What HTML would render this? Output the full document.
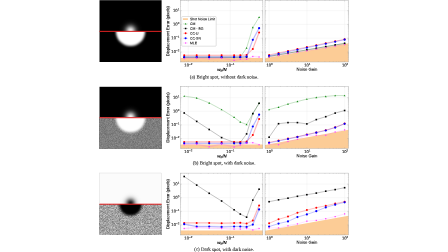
<!DOCTYPE html><html><head><meta charset="utf-8"><title>Figure</title>
<style>html,body{margin:0;padding:0;background:#fff}svg{display:block}text{text-rendering:geometricPrecision}.s{font-family:"Liberation Sans",sans-serif;stroke:#111;stroke-width:0.09px}.t{font-family:"Liberation Serif",serif;stroke:#111;stroke-width:0.07px}</style></head><body>
<svg width="448" height="252" viewBox="0 0 448 252">
<defs>
<filter id="b1" x="-50%" y="-50%" width="200%" height="200%"><feGaussianBlur stdDeviation="1.0"/></filter>
<filter id="b3" x="-50%" y="-50%" width="200%" height="200%"><feGaussianBlur stdDeviation="1.3"/></filter>
<filter id="b2" x="-50%" y="-50%" width="200%" height="200%"><feGaussianBlur stdDeviation="2.6"/></filter>
<filter id="n2" x="0" y="0" width="100%" height="100%" color-interpolation-filters="sRGB"><feTurbulence type="fractalNoise" baseFrequency="1.73" numOctaves="1" seed="3"/><feColorMatrix type="matrix" values="0.26 0 0 0 0.365  0.26 0 0 0 0.365  0.26 0 0 0 0.365  0 0 0 0 1"/></filter>
<filter id="n3" x="0" y="0" width="100%" height="100%" color-interpolation-filters="sRGB"><feTurbulence type="fractalNoise" baseFrequency="1.73" numOctaves="1" seed="7"/><feColorMatrix type="matrix" values="0.6 0 0 0 0.335  0.6 0 0 0 0.335  0.6 0 0 0 0.335  0 0 0 0 1"/></filter>
<radialGradient id="gw" gradientUnits="objectBoundingBox" cx="0.5" cy="0.5" r="0.5"><stop offset="0.000" stop-color="#fff" stop-opacity="0.950"/><stop offset="0.038" stop-color="#fff" stop-opacity="0.942"/><stop offset="0.077" stop-color="#fff" stop-opacity="0.919"/><stop offset="0.115" stop-color="#fff" stop-opacity="0.882"/><stop offset="0.154" stop-color="#fff" stop-opacity="0.833"/><stop offset="0.192" stop-color="#fff" stop-opacity="0.774"/><stop offset="0.231" stop-color="#fff" stop-opacity="0.707"/><stop offset="0.269" stop-color="#fff" stop-opacity="0.635"/><stop offset="0.308" stop-color="#fff" stop-opacity="0.561"/><stop offset="0.346" stop-color="#fff" stop-opacity="0.488"/><stop offset="0.385" stop-color="#fff" stop-opacity="0.418"/><stop offset="0.423" stop-color="#fff" stop-opacity="0.351"/><stop offset="0.462" stop-color="#fff" stop-opacity="0.291"/><stop offset="0.500" stop-color="#fff" stop-opacity="0.237"/><stop offset="0.538" stop-color="#fff" stop-opacity="0.190"/><stop offset="0.577" stop-color="#fff" stop-opacity="0.150"/><stop offset="0.615" stop-color="#fff" stop-opacity="0.116"/><stop offset="0.654" stop-color="#fff" stop-opacity="0.088"/><stop offset="0.692" stop-color="#fff" stop-opacity="0.066"/><stop offset="0.731" stop-color="#fff" stop-opacity="0.049"/><stop offset="0.769" stop-color="#fff" stop-opacity="0.035"/><stop offset="0.808" stop-color="#fff" stop-opacity="0.025"/><stop offset="0.846" stop-color="#fff" stop-opacity="0.018"/><stop offset="0.885" stop-color="#fff" stop-opacity="0.012"/><stop offset="0.923" stop-color="#fff" stop-opacity="0.008"/><stop offset="0.962" stop-color="#fff" stop-opacity="0.006"/><stop offset="1.000" stop-color="#fff" stop-opacity="0.004"/></radialGradient><radialGradient id="gk" gradientUnits="objectBoundingBox" cx="0.5" cy="0.5" r="0.5"><stop offset="0.000" stop-color="#000" stop-opacity="0.920"/><stop offset="0.038" stop-color="#000" stop-opacity="0.911"/><stop offset="0.077" stop-color="#000" stop-opacity="0.885"/><stop offset="0.115" stop-color="#000" stop-opacity="0.842"/><stop offset="0.154" stop-color="#000" stop-opacity="0.787"/><stop offset="0.192" stop-color="#000" stop-opacity="0.720"/><stop offset="0.231" stop-color="#000" stop-opacity="0.647"/><stop offset="0.269" stop-color="#000" stop-opacity="0.570"/><stop offset="0.308" stop-color="#000" stop-opacity="0.492"/><stop offset="0.346" stop-color="#000" stop-opacity="0.417"/><stop offset="0.385" stop-color="#000" stop-opacity="0.346"/><stop offset="0.423" stop-color="#000" stop-opacity="0.282"/><stop offset="0.462" stop-color="#000" stop-opacity="0.225"/><stop offset="0.500" stop-color="#000" stop-opacity="0.176"/><stop offset="0.538" stop-color="#000" stop-opacity="0.135"/><stop offset="0.577" stop-color="#000" stop-opacity="0.102"/><stop offset="0.615" stop-color="#000" stop-opacity="0.075"/><stop offset="0.654" stop-color="#000" stop-opacity="0.054"/><stop offset="0.692" stop-color="#000" stop-opacity="0.039"/><stop offset="0.731" stop-color="#000" stop-opacity="0.027"/><stop offset="0.769" stop-color="#000" stop-opacity="0.018"/><stop offset="0.808" stop-color="#000" stop-opacity="0.012"/><stop offset="0.846" stop-color="#000" stop-opacity="0.008"/><stop offset="0.885" stop-color="#000" stop-opacity="0.005"/><stop offset="0.923" stop-color="#000" stop-opacity="0.003"/><stop offset="0.962" stop-color="#000" stop-opacity="0.002"/><stop offset="1.000" stop-color="#000" stop-opacity="0.001"/></radialGradient>
<clipPath id="c1"><rect x="99.5" y="31.4" width="62.1" height="30.6"/></clipPath>
<clipPath id="c1t"><rect x="99.5" y="0.2" width="62.1" height="31.2"/></clipPath>
<clipPath id="c2"><rect x="99.5" y="117.7" width="62.1" height="30.9"/></clipPath>
<clipPath id="c2t"><rect x="99.5" y="86.8" width="62.1" height="30.9"/></clipPath>
<clipPath id="c3"><rect x="99.5" y="204.1" width="62.1" height="30.9"/></clipPath>
<clipPath id="c3t"><rect x="99.5" y="173" width="62.1" height="31.1"/></clipPath>
</defs>
<rect x="99.5" y="0.2" width="62.1" height="61.8" fill="#000"/>
<g clip-path="url(#c1t)"><circle cx="130.55" cy="30.6" r="12" fill="url(#gw)"/></g>
<g clip-path="url(#c1)"><circle cx="130.55" cy="31.4" r="14.6" fill="#fff" filter="url(#b1)"/></g>
<rect x="99.5" y="30.85" width="62.1" height="1.0" fill="#e32222"/>
<rect x="99.5" y="86.8" width="62.1" height="30.9" fill="#000"/>
<rect x="99.5" y="117.7" width="62.1" height="30.9" fill="#777" filter="url(#n2)"/>
<g clip-path="url(#c2t)"><circle cx="130.55" cy="116.9" r="12" fill="url(#gw)"/></g>
<g clip-path="url(#c2)"><circle cx="130.55" cy="117.7" r="14.8" fill="#fff" filter="url(#b1)"/></g>
<rect x="99.5" y="117.2" width="62.1" height="1.0" fill="#e32222"/>
<rect x="99.5" y="173" width="62.1" height="31.1" fill="#fbfbfb" stroke="#c8c8c8" stroke-width="0.3"/>
<rect x="99.5" y="204.1" width="62.1" height="30.9" fill="#b0b0b0" filter="url(#n3)"/>
<g clip-path="url(#c3t)"><circle cx="130.55" cy="203.3" r="12" fill="url(#gk)"/></g>
<g clip-path="url(#c3)"><circle cx="130.55" cy="204.1" r="11.4" fill="#000" filter="url(#b3)"/></g>
<rect x="99.5" y="203.7" width="62.1" height="1.0" fill="#e32222"/>
<rect x="180.5" y="0.3" width="82.39999999999998" height="61.7" fill="#fff"/><line x1="180.5" x2="262.9" y1="10.6" y2="10.6" stroke="#e6e6e6" stroke-width="0.3"/><line x1="180.5" x2="262.9" y1="24.4" y2="24.4" stroke="#e6e6e6" stroke-width="0.3"/><line x1="180.5" x2="262.9" y1="38.2" y2="38.2" stroke="#e6e6e6" stroke-width="0.3"/><line x1="180.5" x2="262.9" y1="52.0" y2="52.0" stroke="#e6e6e6" stroke-width="0.3"/><line x1="188.3" x2="188.3" y1="0.3" y2="62.0" stroke="#e6e6e6" stroke-width="0.3"/><line x1="230.3" x2="230.3" y1="0.3" y2="62.0" stroke="#e6e6e6" stroke-width="0.3"/>
<path d="M180.5 57.9L262.9 57.9L262.9 62.0L180.5 62.0Z" fill="#fccc96"/>
<polyline points="184.20,57.20 196.70,57.20 209.20,57.20 221.60,57.20 234.10,57.20 240.30,57.00 246.60,47.90 252.80,27.50 259.10,17.30" fill="none" stroke="#0f8a0f" stroke-width="0.3" stroke-opacity="0.8"/><path d="M183.25 57.96L185.15 57.96L184.20 56.25Z" fill="#0f8a0f"/><path d="M195.75 57.96L197.65 57.96L196.70 56.25Z" fill="#0f8a0f"/><path d="M208.25 57.96L210.15 57.96L209.20 56.25Z" fill="#0f8a0f"/><path d="M220.65 57.96L222.55 57.96L221.60 56.25Z" fill="#0f8a0f"/><path d="M233.15 57.96L235.05 57.96L234.10 56.25Z" fill="#0f8a0f"/><path d="M239.35 57.76L241.25 57.76L240.30 56.05Z" fill="#0f8a0f"/><path d="M245.65 48.66L247.55 48.66L246.60 46.95Z" fill="#0f8a0f"/><path d="M251.85 28.26L253.75 28.26L252.80 26.55Z" fill="#0f8a0f"/><path d="M258.15 18.06L260.05 18.06L259.10 16.35Z" fill="#0f8a0f"/>
<polyline points="184.20,57.30 196.70,57.30 209.20,57.30 221.60,57.30 234.10,57.30 240.30,57.30 246.60,57.20" fill="none" stroke="#000" stroke-width="0.3" stroke-opacity="0.8"/><rect x="183.40" y="56.50" width="1.6" height="1.6" fill="#000"/><rect x="195.90" y="56.50" width="1.6" height="1.6" fill="#000"/><rect x="208.40" y="56.50" width="1.6" height="1.6" fill="#000"/><rect x="220.80" y="56.50" width="1.6" height="1.6" fill="#000"/><rect x="233.30" y="56.50" width="1.6" height="1.6" fill="#000"/><rect x="239.50" y="56.50" width="1.6" height="1.6" fill="#000"/><rect x="245.80" y="56.40" width="1.6" height="1.6" fill="#000"/>
<polyline points="184.20,55.30 196.70,55.30 209.20,55.30 221.60,55.30 234.10,55.30 240.30,55.30 246.60,55.00 252.80,48.90 259.10,32.40" fill="none" stroke="#ff0000" stroke-width="1.8" stroke-opacity="0.07" stroke-linejoin="round"/><polyline points="184.20,55.30 196.70,55.30 209.20,55.30 221.60,55.30 234.10,55.30 240.30,55.30 246.60,55.00 252.80,48.90 259.10,32.40" fill="none" stroke="#ff0000" stroke-width="0.3" stroke-opacity="0.8"/><circle cx="184.20" cy="55.30" r="1.00" fill="#ff0000"/><circle cx="196.70" cy="55.30" r="1.00" fill="#ff0000"/><circle cx="209.20" cy="55.30" r="1.00" fill="#ff0000"/><circle cx="221.60" cy="55.30" r="1.00" fill="#ff0000"/><circle cx="234.10" cy="55.30" r="1.00" fill="#ff0000"/><circle cx="240.30" cy="55.30" r="1.00" fill="#ff0000"/><circle cx="246.60" cy="55.00" r="1.00" fill="#ff0000"/><circle cx="252.80" cy="48.90" r="1.00" fill="#ff0000"/><circle cx="259.10" cy="32.40" r="1.00" fill="#ff0000"/>
<polyline points="184.20,57.00 196.70,57.00 209.20,57.00 221.60,57.00 234.10,57.00 240.30,57.00 246.60,56.60 252.80,39.80 259.10,28.20" fill="none" stroke="#0000ff" stroke-width="1.8" stroke-opacity="0.07" stroke-linejoin="round"/><polyline points="184.20,57.00 196.70,57.00 209.20,57.00 221.60,57.00 234.10,57.00 240.30,57.00 246.60,56.60 252.80,39.80 259.10,28.20" fill="none" stroke="#0000ff" stroke-width="0.3" stroke-opacity="0.8"/><circle cx="184.20" cy="57.00" r="1.08" fill="#0000ff"/><circle cx="196.70" cy="57.00" r="1.08" fill="#0000ff"/><circle cx="209.20" cy="57.00" r="1.08" fill="#0000ff"/><circle cx="221.60" cy="57.00" r="1.08" fill="#0000ff"/><circle cx="234.10" cy="57.00" r="1.08" fill="#0000ff"/><circle cx="240.30" cy="57.00" r="1.08" fill="#0000ff"/><circle cx="246.60" cy="56.60" r="1.08" fill="#0000ff"/><circle cx="252.80" cy="39.80" r="1.08" fill="#0000ff"/><circle cx="259.10" cy="28.20" r="1.08" fill="#0000ff"/>
<polyline points="184.20,58.60 196.70,58.20 209.20,58.80 221.60,58.20 234.10,60.30 240.30,59.20 246.60,59.20 252.80,56.50 259.10,57.00" fill="none" stroke="#ff40ff" stroke-width="1.8" stroke-opacity="0.07" stroke-linejoin="round"/><polyline points="184.20,58.60 196.70,58.20 209.20,58.80 221.60,58.20 234.10,60.30 240.30,59.20 246.60,59.20 252.80,56.50 259.10,57.00" fill="none" stroke="#ff40ff" stroke-width="0.3" stroke-opacity="0.5"/><rect x="183.58" y="57.98" width="1.24" height="1.24" fill="#ff40ff"/><rect x="196.08" y="57.58" width="1.24" height="1.24" fill="#ff40ff"/><rect x="208.58" y="58.18" width="1.24" height="1.24" fill="#ff40ff"/><rect x="220.98" y="57.58" width="1.24" height="1.24" fill="#ff40ff"/><rect x="233.48" y="59.68" width="1.24" height="1.24" fill="#ff40ff"/><rect x="239.68" y="58.58" width="1.24" height="1.24" fill="#ff40ff"/><rect x="245.98" y="58.58" width="1.24" height="1.24" fill="#ff40ff"/><rect x="252.18" y="55.88" width="1.24" height="1.24" fill="#ff40ff"/><rect x="258.48" y="56.38" width="1.24" height="1.24" fill="#ff40ff"/>
<rect x="180.5" y="0.3" width="82.39999999999998" height="61.7" fill="none" stroke="#a8a8a8" stroke-width="0.4"/><path d="M180.5 10.6h1.2M262.9 10.6h-1.2M180.5 6.45h0.6M262.9 6.45h-0.6M180.5 4.02h0.6M262.9 4.02h-0.6M180.5 2.29h0.6M262.9 2.29h-0.6M180.5 0.95h0.6M262.9 0.95h-0.6M180.5 24.4h1.2M262.9 24.4h-1.2M180.5 20.25h0.6M262.9 20.25h-0.6M180.5 17.82h0.6M262.9 17.82h-0.6M180.5 16.09h0.6M262.9 16.09h-0.6M180.5 14.75h0.6M262.9 14.75h-0.6M180.5 13.66h0.6M262.9 13.66h-0.6M180.5 12.74h0.6M262.9 12.74h-0.6M180.5 11.94h0.6M262.9 11.94h-0.6M180.5 11.23h0.6M262.9 11.23h-0.6M180.5 38.2h1.2M262.9 38.2h-1.2M180.5 34.05h0.6M262.9 34.05h-0.6M180.5 31.62h0.6M262.9 31.62h-0.6M180.5 29.89h0.6M262.9 29.89h-0.6M180.5 28.55h0.6M262.9 28.55h-0.6M180.5 27.46h0.6M262.9 27.46h-0.6M180.5 26.54h0.6M262.9 26.54h-0.6M180.5 25.74h0.6M262.9 25.74h-0.6M180.5 25.03h0.6M262.9 25.03h-0.6M180.5 52.0h1.2M262.9 52.0h-1.2M180.5 47.85h0.6M262.9 47.85h-0.6M180.5 45.42h0.6M262.9 45.42h-0.6M180.5 43.69h0.6M262.9 43.69h-0.6M180.5 42.35h0.6M262.9 42.35h-0.6M180.5 41.26h0.6M262.9 41.26h-0.6M180.5 40.34h0.6M262.9 40.34h-0.6M180.5 39.54h0.6M262.9 39.54h-0.6M180.5 38.83h0.6M262.9 38.83h-0.6M180.5 61.65h0.6M262.9 61.65h-0.6M180.5 59.22h0.6M262.9 59.22h-0.6M180.5 57.49h0.6M262.9 57.49h-0.6M180.5 56.15h0.6M262.9 56.15h-0.6M180.5 55.06h0.6M262.9 55.06h-0.6M180.5 54.14h0.6M262.9 54.14h-0.6M180.5 53.34h0.6M262.9 53.34h-0.6M180.5 52.63h0.6M262.9 52.63h-0.6M188.3 62.0v-1.2M188.3 0.3v1.2M200.94 62.0v-0.6M200.94 0.3v0.6M208.34 62.0v-0.6M208.34 0.3v0.6M213.59 62.0v-0.6M213.59 0.3v0.6M217.66 62.0v-0.6M217.66 0.3v0.6M220.98 62.0v-0.6M220.98 0.3v0.6M223.79 62.0v-0.6M223.79 0.3v0.6M181.79 62.0v-0.6M181.79 0.3v0.6M226.23 62.0v-0.6M226.23 0.3v0.6M184.23 62.0v-0.6M184.23 0.3v0.6M228.38 62.0v-0.6M228.38 0.3v0.6M186.38 62.0v-0.6M186.38 0.3v0.6M230.3 62.0v-1.2M230.3 0.3v1.2M242.94 62.0v-0.6M242.94 0.3v0.6M250.34 62.0v-0.6M250.34 0.3v0.6M255.59 62.0v-0.6M255.59 0.3v0.6M259.66 62.0v-0.6M259.66 0.3v0.6" stroke="#9a9a9a" stroke-width="0.3" fill="none"/>
<rect x="265.0" y="0.3" width="83.5" height="61.7" fill="#fff"/><line x1="265.0" x2="348.5" y1="10.6" y2="10.6" stroke="#e6e6e6" stroke-width="0.3"/><line x1="265.0" x2="348.5" y1="24.4" y2="24.4" stroke="#e6e6e6" stroke-width="0.3"/><line x1="265.0" x2="348.5" y1="38.2" y2="38.2" stroke="#e6e6e6" stroke-width="0.3"/><line x1="265.0" x2="348.5" y1="52.0" y2="52.0" stroke="#e6e6e6" stroke-width="0.3"/><line x1="269.1" x2="269.1" y1="0.3" y2="62.0" stroke="#e6e6e6" stroke-width="0.3"/><line x1="306.9" x2="306.9" y1="0.3" y2="62.0" stroke="#e6e6e6" stroke-width="0.3"/><line x1="344.6" x2="344.6" y1="0.3" y2="62.0" stroke="#e6e6e6" stroke-width="0.3"/>
<path d="M265.0 58.2L348.5 43.2L348.5 62.0L265.0 62.0Z" fill="#fccc96"/>
<polyline points="269.10,56.50 278.54,54.88 287.98,53.25 297.42,51.62 306.86,50.00 316.30,48.38 325.74,46.75 335.18,45.12 344.62,43.50" fill="none" stroke="#0f8a0f" stroke-width="0.3" stroke-opacity="0.8"/><path d="M268.15 57.26L270.05 57.26L269.10 55.55Z" fill="#0f8a0f"/><path d="M277.59 55.63L279.49 55.63L278.54 53.92Z" fill="#0f8a0f"/><path d="M287.03 54.01L288.93 54.01L287.98 52.30Z" fill="#0f8a0f"/><path d="M296.47 52.38L298.37 52.38L297.42 50.67Z" fill="#0f8a0f"/><path d="M305.91 50.76L307.81 50.76L306.86 49.05Z" fill="#0f8a0f"/><path d="M315.35 49.13L317.25 49.13L316.30 47.42Z" fill="#0f8a0f"/><path d="M324.79 47.51L326.69 47.51L325.74 45.80Z" fill="#0f8a0f"/><path d="M334.23 45.88L336.13 45.88L335.18 44.17Z" fill="#0f8a0f"/><path d="M343.67 44.26L345.57 44.26L344.62 42.55Z" fill="#0f8a0f"/>
<polyline points="269.10,56.40 278.54,54.76 287.98,53.12 297.42,51.49 306.86,49.85 316.30,48.21 325.74,46.57 335.18,44.94 344.62,43.30" fill="none" stroke="#000" stroke-width="0.3" stroke-opacity="0.8"/><rect x="268.30" y="55.60" width="1.6" height="1.6" fill="#000"/><rect x="277.74" y="53.96" width="1.6" height="1.6" fill="#000"/><rect x="287.18" y="52.33" width="1.6" height="1.6" fill="#000"/><rect x="296.62" y="50.69" width="1.6" height="1.6" fill="#000"/><rect x="306.06" y="49.05" width="1.6" height="1.6" fill="#000"/><rect x="315.50" y="47.41" width="1.6" height="1.6" fill="#000"/><rect x="324.94" y="45.77" width="1.6" height="1.6" fill="#000"/><rect x="334.38" y="44.14" width="1.6" height="1.6" fill="#000"/><rect x="343.82" y="42.50" width="1.6" height="1.6" fill="#000"/>
<polyline points="269.10,54.90 278.54,52.95 287.98,51.00 297.42,49.05 306.86,47.10 316.30,45.15 325.74,43.20 335.18,41.25 344.62,39.30" fill="none" stroke="#ff0000" stroke-width="0.3" stroke-opacity="0.8"/><circle cx="269.10" cy="54.90" r="1.00" fill="#ff0000"/><circle cx="278.54" cy="52.95" r="1.00" fill="#ff0000"/><circle cx="287.98" cy="51.00" r="1.00" fill="#ff0000"/><circle cx="297.42" cy="49.05" r="1.00" fill="#ff0000"/><circle cx="306.86" cy="47.10" r="1.00" fill="#ff0000"/><circle cx="316.30" cy="45.15" r="1.00" fill="#ff0000"/><circle cx="325.74" cy="43.20" r="1.00" fill="#ff0000"/><circle cx="335.18" cy="41.25" r="1.00" fill="#ff0000"/><circle cx="344.62" cy="39.30" r="1.00" fill="#ff0000"/>
<polyline points="269.10,55.80 278.54,53.79 287.98,51.77 297.42,49.76 306.86,47.75 316.30,45.74 325.74,43.73 335.18,41.71 344.62,39.70" fill="none" stroke="#0000ff" stroke-width="0.3" stroke-opacity="0.8"/><circle cx="269.10" cy="55.80" r="1.08" fill="#0000ff"/><circle cx="278.54" cy="53.79" r="1.08" fill="#0000ff"/><circle cx="287.98" cy="51.77" r="1.08" fill="#0000ff"/><circle cx="297.42" cy="49.76" r="1.08" fill="#0000ff"/><circle cx="306.86" cy="47.75" r="1.08" fill="#0000ff"/><circle cx="316.30" cy="45.74" r="1.08" fill="#0000ff"/><circle cx="325.74" cy="43.73" r="1.08" fill="#0000ff"/><circle cx="335.18" cy="41.71" r="1.08" fill="#0000ff"/><circle cx="344.62" cy="39.70" r="1.08" fill="#0000ff"/>
<polyline points="269.10,57.00 278.54,55.45 287.98,53.90 297.42,52.35 306.86,50.80 316.30,49.25 325.74,47.70 335.18,46.15 344.62,44.60" fill="none" stroke="#ff40ff" stroke-width="0.3" stroke-opacity="0.5"/><rect x="268.48" y="56.38" width="1.24" height="1.24" fill="#ff40ff"/><rect x="277.92" y="54.83" width="1.24" height="1.24" fill="#ff40ff"/><rect x="287.36" y="53.28" width="1.24" height="1.24" fill="#ff40ff"/><rect x="296.80" y="51.73" width="1.24" height="1.24" fill="#ff40ff"/><rect x="306.24" y="50.18" width="1.24" height="1.24" fill="#ff40ff"/><rect x="315.68" y="48.63" width="1.24" height="1.24" fill="#ff40ff"/><rect x="325.12" y="47.08" width="1.24" height="1.24" fill="#ff40ff"/><rect x="334.56" y="45.53" width="1.24" height="1.24" fill="#ff40ff"/><rect x="344.00" y="43.98" width="1.24" height="1.24" fill="#ff40ff"/>
<rect x="265.0" y="0.3" width="83.5" height="61.7" fill="none" stroke="#a8a8a8" stroke-width="0.4"/><path d="M265.0 10.6h1.2M348.5 10.6h-1.2M265.0 6.45h0.6M348.5 6.45h-0.6M265.0 4.02h0.6M348.5 4.02h-0.6M265.0 2.29h0.6M348.5 2.29h-0.6M265.0 0.95h0.6M348.5 0.95h-0.6M265.0 24.4h1.2M348.5 24.4h-1.2M265.0 20.25h0.6M348.5 20.25h-0.6M265.0 17.82h0.6M348.5 17.82h-0.6M265.0 16.09h0.6M348.5 16.09h-0.6M265.0 14.75h0.6M348.5 14.75h-0.6M265.0 13.66h0.6M348.5 13.66h-0.6M265.0 12.74h0.6M348.5 12.74h-0.6M265.0 11.94h0.6M348.5 11.94h-0.6M265.0 11.23h0.6M348.5 11.23h-0.6M265.0 38.2h1.2M348.5 38.2h-1.2M265.0 34.05h0.6M348.5 34.05h-0.6M265.0 31.62h0.6M348.5 31.62h-0.6M265.0 29.89h0.6M348.5 29.89h-0.6M265.0 28.55h0.6M348.5 28.55h-0.6M265.0 27.46h0.6M348.5 27.46h-0.6M265.0 26.54h0.6M348.5 26.54h-0.6M265.0 25.74h0.6M348.5 25.74h-0.6M265.0 25.03h0.6M348.5 25.03h-0.6M265.0 52.0h1.2M348.5 52.0h-1.2M265.0 47.85h0.6M348.5 47.85h-0.6M265.0 45.42h0.6M348.5 45.42h-0.6M265.0 43.69h0.6M348.5 43.69h-0.6M265.0 42.35h0.6M348.5 42.35h-0.6M265.0 41.26h0.6M348.5 41.26h-0.6M265.0 40.34h0.6M348.5 40.34h-0.6M265.0 39.54h0.6M348.5 39.54h-0.6M265.0 38.83h0.6M348.5 38.83h-0.6M265.0 61.65h0.6M348.5 61.65h-0.6M265.0 59.22h0.6M348.5 59.22h-0.6M265.0 57.49h0.6M348.5 57.49h-0.6M265.0 56.15h0.6M348.5 56.15h-0.6M265.0 55.06h0.6M348.5 55.06h-0.6M265.0 54.14h0.6M348.5 54.14h-0.6M265.0 53.34h0.6M348.5 53.34h-0.6M265.0 52.63h0.6M348.5 52.63h-0.6M269.1 62.0v-1.2M269.1 0.3v1.2M280.47 62.0v-0.6M280.47 0.3v0.6M287.12 62.0v-0.6M287.12 0.3v0.6M291.83 62.0v-0.6M291.83 0.3v0.6M295.49 62.0v-0.6M295.49 0.3v0.6M298.48 62.0v-0.6M298.48 0.3v0.6M301.01 62.0v-0.6M301.01 0.3v0.6M303.20 62.0v-0.6M303.20 0.3v0.6M265.44 62.0v-0.6M265.44 0.3v0.6M305.13 62.0v-0.6M305.13 0.3v0.6M267.37 62.0v-0.6M267.37 0.3v0.6M306.9 62.0v-1.2M306.9 0.3v1.2M318.27 62.0v-0.6M318.27 0.3v0.6M324.92 62.0v-0.6M324.92 0.3v0.6M329.63 62.0v-0.6M329.63 0.3v0.6M333.29 62.0v-0.6M333.29 0.3v0.6M336.28 62.0v-0.6M336.28 0.3v0.6M338.81 62.0v-0.6M338.81 0.3v0.6M341.00 62.0v-0.6M341.00 0.3v0.6M342.93 62.0v-0.6M342.93 0.3v0.6M344.6 62.0v-1.2M344.6 0.3v1.2" stroke="#9a9a9a" stroke-width="0.3" fill="none"/>
<text class="s" transform="rotate(0.06 179.3 11.7)" x="179.3" y="11.7" font-size="4.15" text-anchor="end" fill="#111">10<tspan dy="-1.5" font-size="2.91">1</tspan></text>
<text class="s" transform="rotate(0.06 179.3 25.5)" x="179.3" y="25.5" font-size="4.15" text-anchor="end" fill="#111">10<tspan dy="-1.5" font-size="2.91">0</tspan></text>
<text class="s" transform="rotate(0.06 179.3 39.300000000000004)" x="179.3" y="39.300000000000004" font-size="4.15" text-anchor="end" fill="#111">10<tspan dy="-1.5" font-size="2.91">−1</tspan></text>
<text class="s" transform="rotate(0.06 179.3 53.1)" x="179.3" y="53.1" font-size="4.15" text-anchor="end" fill="#111">10<tspan dy="-1.5" font-size="2.91">−2</tspan></text>
<text class="s" transform="rotate(0.06 188.3 66.5)" x="188.3" y="66.5" font-size="4.15" text-anchor="middle" fill="#111">10<tspan dy="-1.5" font-size="2.91">−2</tspan></text>
<text class="s" transform="rotate(0.06 230.3 66.5)" x="230.3" y="66.5" font-size="4.15" text-anchor="middle" fill="#111">10<tspan dy="-1.5" font-size="2.91">−1</tspan></text>
<text class="s" transform="rotate(0.06 269.6 66.5)" x="269.6" y="66.5" font-size="4.15" text-anchor="middle" fill="#111">10<tspan dy="-1.5" font-size="2.91">0</tspan></text>
<text class="s" transform="rotate(0.06 307.3 66.5)" x="307.3" y="66.5" font-size="4.15" text-anchor="middle" fill="#111">10<tspan dy="-1.5" font-size="2.91">1</tspan></text>
<text class="s" transform="rotate(0.06 345.1 66.5)" x="345.1" y="66.5" font-size="4.15" text-anchor="middle" fill="#111">10<tspan dy="-1.5" font-size="2.91">2</tspan></text>
<text class="s" transform="translate(169.3 31.15) rotate(-89.94)" font-size="4.17" text-anchor="middle" fill="#111">Displacement Error (pixels)</text>
<text class="s" transform="rotate(0.06 221.9 70.9)" x="221.9" y="70.9" font-size="4.3" text-anchor="middle" fill="#111" font-weight="bold" font-style="italic">w<tspan dy="0.8" font-size="2.9">0</tspan><tspan dy="-0.8">/N</tspan></text>
<text class="s" transform="rotate(0.06 307.0 70.7)" x="307.0" y="70.7" font-size="4.22" text-anchor="middle" fill="#111">Noise Gain</text>
<text class="t" transform="rotate(0.06 224.1 78.6)" x="224.1" y="78.6" font-size="4.9" text-anchor="middle" fill="#111">(a) Bright spot, without dark noise.</text>
<rect x="180.5" y="86.4" width="82.39999999999998" height="62.099999999999994" fill="#fff"/><line x1="180.5" x2="262.9" y1="97.7" y2="97.7" stroke="#e6e6e6" stroke-width="0.3"/><line x1="180.5" x2="262.9" y1="111.3" y2="111.3" stroke="#e6e6e6" stroke-width="0.3"/><line x1="180.5" x2="262.9" y1="124.9" y2="124.9" stroke="#e6e6e6" stroke-width="0.3"/><line x1="180.5" x2="262.9" y1="138.5" y2="138.5" stroke="#e6e6e6" stroke-width="0.3"/><line x1="188.3" x2="188.3" y1="86.4" y2="148.5" stroke="#e6e6e6" stroke-width="0.3"/><line x1="230.3" x2="230.3" y1="86.4" y2="148.5" stroke="#e6e6e6" stroke-width="0.3"/>
<path d="M180.5 144.6L262.9 144.6L262.9 148.5L180.5 148.5Z" fill="#fccc96"/>
<polyline points="184.20,96.10 196.70,98.00 209.20,102.90 221.60,109.60 234.10,117.30 240.30,122.00 246.60,124.50 252.80,113.60 259.10,103.30" fill="none" stroke="#0f8a0f" stroke-width="0.3" stroke-opacity="0.8"/><path d="M183.25 96.86L185.15 96.86L184.20 95.15Z" fill="#0f8a0f"/><path d="M195.75 98.76L197.65 98.76L196.70 97.05Z" fill="#0f8a0f"/><path d="M208.25 103.66L210.15 103.66L209.20 101.95Z" fill="#0f8a0f"/><path d="M220.65 110.36L222.55 110.36L221.60 108.65Z" fill="#0f8a0f"/><path d="M233.15 118.06L235.05 118.06L234.10 116.35Z" fill="#0f8a0f"/><path d="M239.35 122.76L241.25 122.76L240.30 121.05Z" fill="#0f8a0f"/><path d="M245.65 125.26L247.55 125.26L246.60 123.55Z" fill="#0f8a0f"/><path d="M251.85 114.36L253.75 114.36L252.80 112.65Z" fill="#0f8a0f"/><path d="M258.15 104.06L260.05 104.06L259.10 102.35Z" fill="#0f8a0f"/>
<polyline points="184.20,113.00 196.70,121.40 209.20,129.50 221.60,137.60 234.10,142.40 240.30,142.50 246.60,133.90 252.80,113.60 259.10,103.30" fill="none" stroke="#000" stroke-width="0.3" stroke-opacity="0.8"/><rect x="183.40" y="112.20" width="1.6" height="1.6" fill="#000"/><rect x="195.90" y="120.60" width="1.6" height="1.6" fill="#000"/><rect x="208.40" y="128.70" width="1.6" height="1.6" fill="#000"/><rect x="220.80" y="136.80" width="1.6" height="1.6" fill="#000"/><rect x="233.30" y="141.60" width="1.6" height="1.6" fill="#000"/><rect x="239.50" y="141.70" width="1.6" height="1.6" fill="#000"/><rect x="245.80" y="133.10" width="1.6" height="1.6" fill="#000"/><rect x="252.00" y="112.80" width="1.6" height="1.6" fill="#000"/><rect x="258.30" y="102.50" width="1.6" height="1.6" fill="#000"/>
<polyline points="184.20,141.90 196.70,141.90 209.20,141.90 221.60,141.90 234.10,141.90 240.30,141.90 246.60,141.50 252.80,135.10 259.10,119.10" fill="none" stroke="#ff0000" stroke-width="1.8" stroke-opacity="0.07" stroke-linejoin="round"/><polyline points="184.20,141.90 196.70,141.90 209.20,141.90 221.60,141.90 234.10,141.90 240.30,141.90 246.60,141.50 252.80,135.10 259.10,119.10" fill="none" stroke="#ff0000" stroke-width="0.3" stroke-opacity="0.8"/><circle cx="184.20" cy="141.90" r="1.00" fill="#ff0000"/><circle cx="196.70" cy="141.90" r="1.00" fill="#ff0000"/><circle cx="209.20" cy="141.90" r="1.00" fill="#ff0000"/><circle cx="221.60" cy="141.90" r="1.00" fill="#ff0000"/><circle cx="234.10" cy="141.90" r="1.00" fill="#ff0000"/><circle cx="240.30" cy="141.90" r="1.00" fill="#ff0000"/><circle cx="246.60" cy="141.50" r="1.00" fill="#ff0000"/><circle cx="252.80" cy="135.10" r="1.00" fill="#ff0000"/><circle cx="259.10" cy="119.10" r="1.00" fill="#ff0000"/>
<polyline points="184.20,143.30 196.70,143.30 209.20,143.30 221.60,143.30 234.10,143.30 240.30,143.30 246.60,142.80 252.80,126.50 259.10,114.70" fill="none" stroke="#0000ff" stroke-width="1.8" stroke-opacity="0.07" stroke-linejoin="round"/><polyline points="184.20,143.30 196.70,143.30 209.20,143.30 221.60,143.30 234.10,143.30 240.30,143.30 246.60,142.80 252.80,126.50 259.10,114.70" fill="none" stroke="#0000ff" stroke-width="0.3" stroke-opacity="0.8"/><circle cx="184.20" cy="143.30" r="1.08" fill="#0000ff"/><circle cx="196.70" cy="143.30" r="1.08" fill="#0000ff"/><circle cx="209.20" cy="143.30" r="1.08" fill="#0000ff"/><circle cx="221.60" cy="143.30" r="1.08" fill="#0000ff"/><circle cx="234.10" cy="143.30" r="1.08" fill="#0000ff"/><circle cx="240.30" cy="143.30" r="1.08" fill="#0000ff"/><circle cx="246.60" cy="142.80" r="1.08" fill="#0000ff"/><circle cx="252.80" cy="126.50" r="1.08" fill="#0000ff"/><circle cx="259.10" cy="114.70" r="1.08" fill="#0000ff"/>
<polyline points="184.20,144.60 196.70,144.20 209.20,146.80 221.60,144.00 234.10,147.00 240.30,145.00 246.60,143.20 252.80,142.70 259.10,144.70" fill="none" stroke="#ff40ff" stroke-width="1.8" stroke-opacity="0.07" stroke-linejoin="round"/><polyline points="184.20,144.60 196.70,144.20 209.20,146.80 221.60,144.00 234.10,147.00 240.30,145.00 246.60,143.20 252.80,142.70 259.10,144.70" fill="none" stroke="#ff40ff" stroke-width="0.3" stroke-opacity="0.5"/><rect x="183.58" y="143.98" width="1.24" height="1.24" fill="#ff40ff"/><rect x="196.08" y="143.58" width="1.24" height="1.24" fill="#ff40ff"/><rect x="208.58" y="146.18" width="1.24" height="1.24" fill="#ff40ff"/><rect x="220.98" y="143.38" width="1.24" height="1.24" fill="#ff40ff"/><rect x="233.48" y="146.38" width="1.24" height="1.24" fill="#ff40ff"/><rect x="239.68" y="144.38" width="1.24" height="1.24" fill="#ff40ff"/><rect x="245.98" y="142.58" width="1.24" height="1.24" fill="#ff40ff"/><rect x="252.18" y="142.08" width="1.24" height="1.24" fill="#ff40ff"/><rect x="258.48" y="144.08" width="1.24" height="1.24" fill="#ff40ff"/>
<rect x="180.5" y="86.4" width="82.39999999999998" height="62.099999999999994" fill="none" stroke="#a8a8a8" stroke-width="0.4"/><path d="M180.5 97.7h1.2M262.9 97.7h-1.2M180.5 93.55h0.6M262.9 93.55h-0.6M180.5 91.12h0.6M262.9 91.12h-0.6M180.5 89.39h0.6M262.9 89.39h-0.6M180.5 88.05h0.6M262.9 88.05h-0.6M180.5 86.96h0.6M262.9 86.96h-0.6M180.5 111.3h1.2M262.9 111.3h-1.2M180.5 107.15h0.6M262.9 107.15h-0.6M180.5 104.72h0.6M262.9 104.72h-0.6M180.5 102.99h0.6M262.9 102.99h-0.6M180.5 101.65h0.6M262.9 101.65h-0.6M180.5 100.56h0.6M262.9 100.56h-0.6M180.5 99.64h0.6M262.9 99.64h-0.6M180.5 98.84h0.6M262.9 98.84h-0.6M180.5 98.13h0.6M262.9 98.13h-0.6M180.5 124.9h1.2M262.9 124.9h-1.2M180.5 120.75h0.6M262.9 120.75h-0.6M180.5 118.32h0.6M262.9 118.32h-0.6M180.5 116.59h0.6M262.9 116.59h-0.6M180.5 115.25h0.6M262.9 115.25h-0.6M180.5 114.16h0.6M262.9 114.16h-0.6M180.5 113.24h0.6M262.9 113.24h-0.6M180.5 112.44h0.6M262.9 112.44h-0.6M180.5 111.73h0.6M262.9 111.73h-0.6M180.5 138.5h1.2M262.9 138.5h-1.2M180.5 134.35h0.6M262.9 134.35h-0.6M180.5 131.92h0.6M262.9 131.92h-0.6M180.5 130.19h0.6M262.9 130.19h-0.6M180.5 128.85h0.6M262.9 128.85h-0.6M180.5 127.76h0.6M262.9 127.76h-0.6M180.5 126.84h0.6M262.9 126.84h-0.6M180.5 126.04h0.6M262.9 126.04h-0.6M180.5 125.33h0.6M262.9 125.33h-0.6M180.5 148.15h0.6M262.9 148.15h-0.6M180.5 145.72h0.6M262.9 145.72h-0.6M180.5 143.99h0.6M262.9 143.99h-0.6M180.5 142.65h0.6M262.9 142.65h-0.6M180.5 141.56h0.6M262.9 141.56h-0.6M180.5 140.64h0.6M262.9 140.64h-0.6M180.5 139.84h0.6M262.9 139.84h-0.6M180.5 139.13h0.6M262.9 139.13h-0.6M188.3 148.5v-1.2M188.3 86.4v1.2M200.94 148.5v-0.6M200.94 86.4v0.6M208.34 148.5v-0.6M208.34 86.4v0.6M213.59 148.5v-0.6M213.59 86.4v0.6M217.66 148.5v-0.6M217.66 86.4v0.6M220.98 148.5v-0.6M220.98 86.4v0.6M223.79 148.5v-0.6M223.79 86.4v0.6M181.79 148.5v-0.6M181.79 86.4v0.6M226.23 148.5v-0.6M226.23 86.4v0.6M184.23 148.5v-0.6M184.23 86.4v0.6M228.38 148.5v-0.6M228.38 86.4v0.6M186.38 148.5v-0.6M186.38 86.4v0.6M230.3 148.5v-1.2M230.3 86.4v1.2M242.94 148.5v-0.6M242.94 86.4v0.6M250.34 148.5v-0.6M250.34 86.4v0.6M255.59 148.5v-0.6M255.59 86.4v0.6M259.66 148.5v-0.6M259.66 86.4v0.6" stroke="#9a9a9a" stroke-width="0.3" fill="none"/>
<rect x="265.0" y="86.4" width="83.5" height="62.099999999999994" fill="#fff"/><line x1="265.0" x2="348.5" y1="97.7" y2="97.7" stroke="#e6e6e6" stroke-width="0.3"/><line x1="265.0" x2="348.5" y1="111.3" y2="111.3" stroke="#e6e6e6" stroke-width="0.3"/><line x1="265.0" x2="348.5" y1="124.9" y2="124.9" stroke="#e6e6e6" stroke-width="0.3"/><line x1="265.0" x2="348.5" y1="138.5" y2="138.5" stroke="#e6e6e6" stroke-width="0.3"/><line x1="269.1" x2="269.1" y1="86.4" y2="148.5" stroke="#e6e6e6" stroke-width="0.3"/><line x1="306.9" x2="306.9" y1="86.4" y2="148.5" stroke="#e6e6e6" stroke-width="0.3"/><line x1="344.6" x2="344.6" y1="86.4" y2="148.5" stroke="#e6e6e6" stroke-width="0.3"/>
<path d="M265.0 144.9L348.5 129.7L348.5 148.5L265.0 148.5Z" fill="#fccc96"/>
<polyline points="269.10,109.60 278.54,107.20 287.98,104.00 297.42,101.50 306.86,99.10 316.30,97.50 325.74,96.40 335.18,95.60 344.62,95.60" fill="none" stroke="#0f8a0f" stroke-width="0.3" stroke-opacity="0.8"/><path d="M268.15 110.36L270.05 110.36L269.10 108.65Z" fill="#0f8a0f"/><path d="M277.59 107.96L279.49 107.96L278.54 106.25Z" fill="#0f8a0f"/><path d="M287.03 104.76L288.93 104.76L287.98 103.05Z" fill="#0f8a0f"/><path d="M296.47 102.26L298.37 102.26L297.42 100.55Z" fill="#0f8a0f"/><path d="M305.91 99.86L307.81 99.86L306.86 98.15Z" fill="#0f8a0f"/><path d="M315.35 98.26L317.25 98.26L316.30 96.55Z" fill="#0f8a0f"/><path d="M324.79 97.16L326.69 97.16L325.74 95.45Z" fill="#0f8a0f"/><path d="M334.23 96.36L336.13 96.36L335.18 94.65Z" fill="#0f8a0f"/><path d="M343.67 96.36L345.57 96.36L344.62 94.65Z" fill="#0f8a0f"/>
<polyline points="269.10,137.20 278.54,123.70 287.98,122.60 297.42,122.60 306.86,123.90 316.30,119.60 325.74,116.70 335.18,113.10 344.62,110.50" fill="none" stroke="#000" stroke-width="0.3" stroke-opacity="0.8"/><rect x="268.30" y="136.40" width="1.6" height="1.6" fill="#000"/><rect x="277.74" y="122.90" width="1.6" height="1.6" fill="#000"/><rect x="287.18" y="121.80" width="1.6" height="1.6" fill="#000"/><rect x="296.62" y="121.80" width="1.6" height="1.6" fill="#000"/><rect x="306.06" y="123.10" width="1.6" height="1.6" fill="#000"/><rect x="315.50" y="118.80" width="1.6" height="1.6" fill="#000"/><rect x="324.94" y="115.90" width="1.6" height="1.6" fill="#000"/><rect x="334.38" y="112.30" width="1.6" height="1.6" fill="#000"/><rect x="343.82" y="109.70" width="1.6" height="1.6" fill="#000"/>
<polyline points="269.10,142.40 278.54,140.50 287.98,138.60 297.42,136.70 306.86,134.50 316.30,132.40 325.74,130.20 335.18,127.30 344.62,123.60" fill="none" stroke="#ff0000" stroke-width="0.3" stroke-opacity="0.8"/><circle cx="269.10" cy="142.40" r="1.00" fill="#ff0000"/><circle cx="278.54" cy="140.50" r="1.00" fill="#ff0000"/><circle cx="287.98" cy="138.60" r="1.00" fill="#ff0000"/><circle cx="297.42" cy="136.70" r="1.00" fill="#ff0000"/><circle cx="306.86" cy="134.50" r="1.00" fill="#ff0000"/><circle cx="316.30" cy="132.40" r="1.00" fill="#ff0000"/><circle cx="325.74" cy="130.20" r="1.00" fill="#ff0000"/><circle cx="335.18" cy="127.30" r="1.00" fill="#ff0000"/><circle cx="344.62" cy="123.60" r="1.00" fill="#ff0000"/>
<polyline points="269.10,142.90 278.54,141.00 287.98,139.00 297.42,137.00 306.86,134.80 316.30,132.70 325.74,130.50 335.18,127.60 344.62,123.80" fill="none" stroke="#0000ff" stroke-width="0.3" stroke-opacity="0.8"/><circle cx="269.10" cy="142.90" r="1.08" fill="#0000ff"/><circle cx="278.54" cy="141.00" r="1.08" fill="#0000ff"/><circle cx="287.98" cy="139.00" r="1.08" fill="#0000ff"/><circle cx="297.42" cy="137.00" r="1.08" fill="#0000ff"/><circle cx="306.86" cy="134.80" r="1.08" fill="#0000ff"/><circle cx="316.30" cy="132.70" r="1.08" fill="#0000ff"/><circle cx="325.74" cy="130.50" r="1.08" fill="#0000ff"/><circle cx="335.18" cy="127.60" r="1.08" fill="#0000ff"/><circle cx="344.62" cy="123.80" r="1.08" fill="#0000ff"/>
<polyline points="269.10,143.90 278.54,144.70 287.98,141.50 297.42,139.30 306.86,135.30 316.30,135.30 325.74,135.30 335.18,132.00 344.62,129.90" fill="none" stroke="#ff40ff" stroke-width="0.3" stroke-opacity="0.5"/><rect x="268.48" y="143.28" width="1.24" height="1.24" fill="#ff40ff"/><rect x="277.92" y="144.08" width="1.24" height="1.24" fill="#ff40ff"/><rect x="287.36" y="140.88" width="1.24" height="1.24" fill="#ff40ff"/><rect x="296.80" y="138.68" width="1.24" height="1.24" fill="#ff40ff"/><rect x="306.24" y="134.68" width="1.24" height="1.24" fill="#ff40ff"/><rect x="315.68" y="134.68" width="1.24" height="1.24" fill="#ff40ff"/><rect x="325.12" y="134.68" width="1.24" height="1.24" fill="#ff40ff"/><rect x="334.56" y="131.38" width="1.24" height="1.24" fill="#ff40ff"/><rect x="344.00" y="129.28" width="1.24" height="1.24" fill="#ff40ff"/>
<rect x="265.0" y="86.4" width="83.5" height="62.099999999999994" fill="none" stroke="#a8a8a8" stroke-width="0.4"/><path d="M265.0 97.7h1.2M348.5 97.7h-1.2M265.0 93.55h0.6M348.5 93.55h-0.6M265.0 91.12h0.6M348.5 91.12h-0.6M265.0 89.39h0.6M348.5 89.39h-0.6M265.0 88.05h0.6M348.5 88.05h-0.6M265.0 86.96h0.6M348.5 86.96h-0.6M265.0 111.3h1.2M348.5 111.3h-1.2M265.0 107.15h0.6M348.5 107.15h-0.6M265.0 104.72h0.6M348.5 104.72h-0.6M265.0 102.99h0.6M348.5 102.99h-0.6M265.0 101.65h0.6M348.5 101.65h-0.6M265.0 100.56h0.6M348.5 100.56h-0.6M265.0 99.64h0.6M348.5 99.64h-0.6M265.0 98.84h0.6M348.5 98.84h-0.6M265.0 98.13h0.6M348.5 98.13h-0.6M265.0 124.9h1.2M348.5 124.9h-1.2M265.0 120.75h0.6M348.5 120.75h-0.6M265.0 118.32h0.6M348.5 118.32h-0.6M265.0 116.59h0.6M348.5 116.59h-0.6M265.0 115.25h0.6M348.5 115.25h-0.6M265.0 114.16h0.6M348.5 114.16h-0.6M265.0 113.24h0.6M348.5 113.24h-0.6M265.0 112.44h0.6M348.5 112.44h-0.6M265.0 111.73h0.6M348.5 111.73h-0.6M265.0 138.5h1.2M348.5 138.5h-1.2M265.0 134.35h0.6M348.5 134.35h-0.6M265.0 131.92h0.6M348.5 131.92h-0.6M265.0 130.19h0.6M348.5 130.19h-0.6M265.0 128.85h0.6M348.5 128.85h-0.6M265.0 127.76h0.6M348.5 127.76h-0.6M265.0 126.84h0.6M348.5 126.84h-0.6M265.0 126.04h0.6M348.5 126.04h-0.6M265.0 125.33h0.6M348.5 125.33h-0.6M265.0 148.15h0.6M348.5 148.15h-0.6M265.0 145.72h0.6M348.5 145.72h-0.6M265.0 143.99h0.6M348.5 143.99h-0.6M265.0 142.65h0.6M348.5 142.65h-0.6M265.0 141.56h0.6M348.5 141.56h-0.6M265.0 140.64h0.6M348.5 140.64h-0.6M265.0 139.84h0.6M348.5 139.84h-0.6M265.0 139.13h0.6M348.5 139.13h-0.6M269.1 148.5v-1.2M269.1 86.4v1.2M280.47 148.5v-0.6M280.47 86.4v0.6M287.12 148.5v-0.6M287.12 86.4v0.6M291.83 148.5v-0.6M291.83 86.4v0.6M295.49 148.5v-0.6M295.49 86.4v0.6M298.48 148.5v-0.6M298.48 86.4v0.6M301.01 148.5v-0.6M301.01 86.4v0.6M303.20 148.5v-0.6M303.20 86.4v0.6M265.44 148.5v-0.6M265.44 86.4v0.6M305.13 148.5v-0.6M305.13 86.4v0.6M267.37 148.5v-0.6M267.37 86.4v0.6M306.9 148.5v-1.2M306.9 86.4v1.2M318.27 148.5v-0.6M318.27 86.4v0.6M324.92 148.5v-0.6M324.92 86.4v0.6M329.63 148.5v-0.6M329.63 86.4v0.6M333.29 148.5v-0.6M333.29 86.4v0.6M336.28 148.5v-0.6M336.28 86.4v0.6M338.81 148.5v-0.6M338.81 86.4v0.6M341.00 148.5v-0.6M341.00 86.4v0.6M342.93 148.5v-0.6M342.93 86.4v0.6M344.6 148.5v-1.2M344.6 86.4v1.2" stroke="#9a9a9a" stroke-width="0.3" fill="none"/>
<text class="s" transform="rotate(0.06 179.3 98.8)" x="179.3" y="98.8" font-size="4.15" text-anchor="end" fill="#111">10<tspan dy="-1.5" font-size="2.91">1</tspan></text>
<text class="s" transform="rotate(0.06 179.3 112.39999999999999)" x="179.3" y="112.39999999999999" font-size="4.15" text-anchor="end" fill="#111">10<tspan dy="-1.5" font-size="2.91">0</tspan></text>
<text class="s" transform="rotate(0.06 179.3 126.0)" x="179.3" y="126.0" font-size="4.15" text-anchor="end" fill="#111">10<tspan dy="-1.5" font-size="2.91">−1</tspan></text>
<text class="s" transform="rotate(0.06 179.3 139.6)" x="179.3" y="139.6" font-size="4.15" text-anchor="end" fill="#111">10<tspan dy="-1.5" font-size="2.91">−2</tspan></text>
<text class="s" transform="rotate(0.06 188.3 153.0)" x="188.3" y="153.0" font-size="4.15" text-anchor="middle" fill="#111">10<tspan dy="-1.5" font-size="2.91">−2</tspan></text>
<text class="s" transform="rotate(0.06 230.3 153.0)" x="230.3" y="153.0" font-size="4.15" text-anchor="middle" fill="#111">10<tspan dy="-1.5" font-size="2.91">−1</tspan></text>
<text class="s" transform="rotate(0.06 269.6 153.0)" x="269.6" y="153.0" font-size="4.15" text-anchor="middle" fill="#111">10<tspan dy="-1.5" font-size="2.91">0</tspan></text>
<text class="s" transform="rotate(0.06 307.3 153.0)" x="307.3" y="153.0" font-size="4.15" text-anchor="middle" fill="#111">10<tspan dy="-1.5" font-size="2.91">1</tspan></text>
<text class="s" transform="rotate(0.06 345.1 153.0)" x="345.1" y="153.0" font-size="4.15" text-anchor="middle" fill="#111">10<tspan dy="-1.5" font-size="2.91">2</tspan></text>
<text class="s" transform="translate(169.3 117.45) rotate(-89.94)" font-size="4.17" text-anchor="middle" fill="#111">Displacement Error (pixels)</text>
<text class="s" transform="rotate(0.06 221.9 157.4)" x="221.9" y="157.4" font-size="4.3" text-anchor="middle" fill="#111" font-weight="bold" font-style="italic">w<tspan dy="0.8" font-size="2.9">0</tspan><tspan dy="-0.8">/N</tspan></text>
<text class="s" transform="rotate(0.06 307.0 157.2)" x="307.0" y="157.2" font-size="4.22" text-anchor="middle" fill="#111">Noise Gain</text>
<text class="t" transform="rotate(0.06 224.1 164.6)" x="224.1" y="164.6" font-size="4.9" text-anchor="middle" fill="#111">(b) Bright spot, with dark noise.</text>
<rect x="180.5" y="173.1" width="82.39999999999998" height="61.900000000000006" fill="#fff"/><line x1="180.5" x2="262.9" y1="184.1" y2="184.1" stroke="#e6e6e6" stroke-width="0.3"/><line x1="180.5" x2="262.9" y1="197.7" y2="197.7" stroke="#e6e6e6" stroke-width="0.3"/><line x1="180.5" x2="262.9" y1="211.3" y2="211.3" stroke="#e6e6e6" stroke-width="0.3"/><line x1="180.5" x2="262.9" y1="224.9" y2="224.9" stroke="#e6e6e6" stroke-width="0.3"/><line x1="188.3" x2="188.3" y1="173.1" y2="235.0" stroke="#e6e6e6" stroke-width="0.3"/><line x1="230.3" x2="230.3" y1="173.1" y2="235.0" stroke="#e6e6e6" stroke-width="0.3"/>
<path d="M180.5 230.6L262.9 230.6L262.9 235.0L180.5 235.0Z" fill="#fccc96"/>
<polyline points="184.20,176.50 196.70,185.10 209.20,193.30 221.60,201.00 234.10,209.80 240.30,214.10 246.60,217.20 252.80,200.10 259.10,189.20" fill="none" stroke="#000" stroke-width="0.3" stroke-opacity="0.8"/><rect x="183.40" y="175.70" width="1.6" height="1.6" fill="#000"/><rect x="195.90" y="184.30" width="1.6" height="1.6" fill="#000"/><rect x="208.40" y="192.50" width="1.6" height="1.6" fill="#000"/><rect x="220.80" y="200.20" width="1.6" height="1.6" fill="#000"/><rect x="233.30" y="209.00" width="1.6" height="1.6" fill="#000"/><rect x="239.50" y="213.30" width="1.6" height="1.6" fill="#000"/><rect x="245.80" y="216.40" width="1.6" height="1.6" fill="#000"/><rect x="252.00" y="199.30" width="1.6" height="1.6" fill="#000"/><rect x="258.30" y="188.40" width="1.6" height="1.6" fill="#000"/>
<polyline points="184.20,222.90 196.70,222.90 209.20,222.90 221.60,223.20 234.10,223.00 240.30,222.80 246.60,223.60 252.80,220.60 259.10,205.40" fill="none" stroke="#ff0000" stroke-width="1.8" stroke-opacity="0.07" stroke-linejoin="round"/><polyline points="184.20,222.90 196.70,222.90 209.20,222.90 221.60,223.20 234.10,223.00 240.30,222.80 246.60,223.60 252.80,220.60 259.10,205.40" fill="none" stroke="#ff0000" stroke-width="0.3" stroke-opacity="0.8"/><circle cx="184.20" cy="222.90" r="1.00" fill="#ff0000"/><circle cx="196.70" cy="222.90" r="1.00" fill="#ff0000"/><circle cx="209.20" cy="222.90" r="1.00" fill="#ff0000"/><circle cx="221.60" cy="223.20" r="1.00" fill="#ff0000"/><circle cx="234.10" cy="223.00" r="1.00" fill="#ff0000"/><circle cx="240.30" cy="222.80" r="1.00" fill="#ff0000"/><circle cx="246.60" cy="223.60" r="1.00" fill="#ff0000"/><circle cx="252.80" cy="220.60" r="1.00" fill="#ff0000"/><circle cx="259.10" cy="205.40" r="1.00" fill="#ff0000"/>
<polyline points="184.20,224.20 196.70,226.50 209.20,226.50 221.60,226.90 234.10,226.50 240.30,226.50 246.60,226.90 252.80,224.60 259.10,209.40" fill="none" stroke="#0000ff" stroke-width="1.8" stroke-opacity="0.07" stroke-linejoin="round"/><polyline points="184.20,224.20 196.70,226.50 209.20,226.50 221.60,226.90 234.10,226.50 240.30,226.50 246.60,226.90 252.80,224.60 259.10,209.40" fill="none" stroke="#0000ff" stroke-width="0.3" stroke-opacity="0.8"/><circle cx="184.20" cy="224.20" r="1.08" fill="#0000ff"/><circle cx="196.70" cy="226.50" r="1.08" fill="#0000ff"/><circle cx="209.20" cy="226.50" r="1.08" fill="#0000ff"/><circle cx="221.60" cy="226.90" r="1.08" fill="#0000ff"/><circle cx="234.10" cy="226.50" r="1.08" fill="#0000ff"/><circle cx="240.30" cy="226.50" r="1.08" fill="#0000ff"/><circle cx="246.60" cy="226.90" r="1.08" fill="#0000ff"/><circle cx="252.80" cy="224.60" r="1.08" fill="#0000ff"/><circle cx="259.10" cy="209.40" r="1.08" fill="#0000ff"/>
<polyline points="184.20,228.50 196.70,227.60 209.20,228.20 221.60,228.50 234.10,229.00 240.30,229.00 246.60,228.50 252.80,229.90 259.10,228.50" fill="none" stroke="#ff40ff" stroke-width="1.8" stroke-opacity="0.07" stroke-linejoin="round"/><polyline points="184.20,228.50 196.70,227.60 209.20,228.20 221.60,228.50 234.10,229.00 240.30,229.00 246.60,228.50 252.80,229.90 259.10,228.50" fill="none" stroke="#ff40ff" stroke-width="0.3" stroke-opacity="0.5"/><rect x="183.58" y="227.88" width="1.24" height="1.24" fill="#ff40ff"/><rect x="196.08" y="226.98" width="1.24" height="1.24" fill="#ff40ff"/><rect x="208.58" y="227.58" width="1.24" height="1.24" fill="#ff40ff"/><rect x="220.98" y="227.88" width="1.24" height="1.24" fill="#ff40ff"/><rect x="233.48" y="228.38" width="1.24" height="1.24" fill="#ff40ff"/><rect x="239.68" y="228.38" width="1.24" height="1.24" fill="#ff40ff"/><rect x="245.98" y="227.88" width="1.24" height="1.24" fill="#ff40ff"/><rect x="252.18" y="229.28" width="1.24" height="1.24" fill="#ff40ff"/><rect x="258.48" y="227.88" width="1.24" height="1.24" fill="#ff40ff"/>
<rect x="180.5" y="173.1" width="82.39999999999998" height="61.900000000000006" fill="none" stroke="#a8a8a8" stroke-width="0.4"/><path d="M180.5 184.1h1.2M262.9 184.1h-1.2M180.5 179.95h0.6M262.9 179.95h-0.6M180.5 177.52h0.6M262.9 177.52h-0.6M180.5 175.79h0.6M262.9 175.79h-0.6M180.5 174.45h0.6M262.9 174.45h-0.6M180.5 173.36h0.6M262.9 173.36h-0.6M180.5 197.7h1.2M262.9 197.7h-1.2M180.5 193.55h0.6M262.9 193.55h-0.6M180.5 191.12h0.6M262.9 191.12h-0.6M180.5 189.39h0.6M262.9 189.39h-0.6M180.5 188.05h0.6M262.9 188.05h-0.6M180.5 186.96h0.6M262.9 186.96h-0.6M180.5 186.04h0.6M262.9 186.04h-0.6M180.5 185.24h0.6M262.9 185.24h-0.6M180.5 184.53h0.6M262.9 184.53h-0.6M180.5 211.3h1.2M262.9 211.3h-1.2M180.5 207.15h0.6M262.9 207.15h-0.6M180.5 204.72h0.6M262.9 204.72h-0.6M180.5 202.99h0.6M262.9 202.99h-0.6M180.5 201.65h0.6M262.9 201.65h-0.6M180.5 200.56h0.6M262.9 200.56h-0.6M180.5 199.64h0.6M262.9 199.64h-0.6M180.5 198.84h0.6M262.9 198.84h-0.6M180.5 198.13h0.6M262.9 198.13h-0.6M180.5 224.9h1.2M262.9 224.9h-1.2M180.5 220.75h0.6M262.9 220.75h-0.6M180.5 218.32h0.6M262.9 218.32h-0.6M180.5 216.59h0.6M262.9 216.59h-0.6M180.5 215.25h0.6M262.9 215.25h-0.6M180.5 214.16h0.6M262.9 214.16h-0.6M180.5 213.24h0.6M262.9 213.24h-0.6M180.5 212.44h0.6M262.9 212.44h-0.6M180.5 211.73h0.6M262.9 211.73h-0.6M180.5 234.55h0.6M262.9 234.55h-0.6M180.5 232.12h0.6M262.9 232.12h-0.6M180.5 230.39h0.6M262.9 230.39h-0.6M180.5 229.05h0.6M262.9 229.05h-0.6M180.5 227.96h0.6M262.9 227.96h-0.6M180.5 227.04h0.6M262.9 227.04h-0.6M180.5 226.24h0.6M262.9 226.24h-0.6M180.5 225.53h0.6M262.9 225.53h-0.6M188.3 235.0v-1.2M188.3 173.1v1.2M200.94 235.0v-0.6M200.94 173.1v0.6M208.34 235.0v-0.6M208.34 173.1v0.6M213.59 235.0v-0.6M213.59 173.1v0.6M217.66 235.0v-0.6M217.66 173.1v0.6M220.98 235.0v-0.6M220.98 173.1v0.6M223.79 235.0v-0.6M223.79 173.1v0.6M181.79 235.0v-0.6M181.79 173.1v0.6M226.23 235.0v-0.6M226.23 173.1v0.6M184.23 235.0v-0.6M184.23 173.1v0.6M228.38 235.0v-0.6M228.38 173.1v0.6M186.38 235.0v-0.6M186.38 173.1v0.6M230.3 235.0v-1.2M230.3 173.1v1.2M242.94 235.0v-0.6M242.94 173.1v0.6M250.34 235.0v-0.6M250.34 173.1v0.6M255.59 235.0v-0.6M255.59 173.1v0.6M259.66 235.0v-0.6M259.66 173.1v0.6" stroke="#9a9a9a" stroke-width="0.3" fill="none"/>
<rect x="265.0" y="173.1" width="83.5" height="61.900000000000006" fill="#fff"/><line x1="265.0" x2="348.5" y1="184.1" y2="184.1" stroke="#e6e6e6" stroke-width="0.3"/><line x1="265.0" x2="348.5" y1="197.7" y2="197.7" stroke="#e6e6e6" stroke-width="0.3"/><line x1="265.0" x2="348.5" y1="211.3" y2="211.3" stroke="#e6e6e6" stroke-width="0.3"/><line x1="265.0" x2="348.5" y1="224.9" y2="224.9" stroke="#e6e6e6" stroke-width="0.3"/><line x1="269.1" x2="269.1" y1="173.1" y2="235.0" stroke="#e6e6e6" stroke-width="0.3"/><line x1="306.9" x2="306.9" y1="173.1" y2="235.0" stroke="#e6e6e6" stroke-width="0.3"/><line x1="344.6" x2="344.6" y1="173.1" y2="235.0" stroke="#e6e6e6" stroke-width="0.3"/>
<path d="M265.0 230.8L348.5 215.8L348.5 235.0L265.0 235.0Z" fill="#fccc96"/>
<polyline points="269.10,201.70 278.54,199.80 287.98,198.20 297.42,196.30 306.86,194.70 316.30,193.10 325.74,191.20 335.18,189.60 344.62,187.70" fill="none" stroke="#000" stroke-width="0.3" stroke-opacity="0.8"/><rect x="268.30" y="200.90" width="1.6" height="1.6" fill="#000"/><rect x="277.74" y="199.00" width="1.6" height="1.6" fill="#000"/><rect x="287.18" y="197.40" width="1.6" height="1.6" fill="#000"/><rect x="296.62" y="195.50" width="1.6" height="1.6" fill="#000"/><rect x="306.06" y="193.90" width="1.6" height="1.6" fill="#000"/><rect x="315.50" y="192.30" width="1.6" height="1.6" fill="#000"/><rect x="324.94" y="190.40" width="1.6" height="1.6" fill="#000"/><rect x="334.38" y="188.80" width="1.6" height="1.6" fill="#000"/><rect x="343.82" y="186.90" width="1.6" height="1.6" fill="#000"/>
<polyline points="269.10,223.30 278.54,219.30 287.98,216.60 297.42,212.80 306.86,210.10 316.30,207.70 325.74,205.80 335.18,203.60 344.62,201.70" fill="none" stroke="#ff0000" stroke-width="0.3" stroke-opacity="0.8"/><circle cx="269.10" cy="223.30" r="1.00" fill="#ff0000"/><circle cx="278.54" cy="219.30" r="1.00" fill="#ff0000"/><circle cx="287.98" cy="216.60" r="1.00" fill="#ff0000"/><circle cx="297.42" cy="212.80" r="1.00" fill="#ff0000"/><circle cx="306.86" cy="210.10" r="1.00" fill="#ff0000"/><circle cx="316.30" cy="207.70" r="1.00" fill="#ff0000"/><circle cx="325.74" cy="205.80" r="1.00" fill="#ff0000"/><circle cx="335.18" cy="203.60" r="1.00" fill="#ff0000"/><circle cx="344.62" cy="201.70" r="1.00" fill="#ff0000"/>
<polyline points="269.10,226.60 278.54,223.60 287.98,221.40 297.42,217.10 306.86,214.40 316.30,211.20 325.74,207.40 335.18,204.70 344.62,202.30" fill="none" stroke="#0000ff" stroke-width="0.3" stroke-opacity="0.8"/><circle cx="269.10" cy="226.60" r="1.08" fill="#0000ff"/><circle cx="278.54" cy="223.60" r="1.08" fill="#0000ff"/><circle cx="287.98" cy="221.40" r="1.08" fill="#0000ff"/><circle cx="297.42" cy="217.10" r="1.08" fill="#0000ff"/><circle cx="306.86" cy="214.40" r="1.08" fill="#0000ff"/><circle cx="316.30" cy="211.20" r="1.08" fill="#0000ff"/><circle cx="325.74" cy="207.40" r="1.08" fill="#0000ff"/><circle cx="335.18" cy="204.70" r="1.08" fill="#0000ff"/><circle cx="344.62" cy="202.30" r="1.08" fill="#0000ff"/>
<polyline points="269.10,227.90 278.54,227.90 287.98,225.80 297.42,223.90 306.86,221.20 316.30,220.40 325.74,218.70 335.18,216.60 344.62,213.90" fill="none" stroke="#ff40ff" stroke-width="0.3" stroke-opacity="0.5"/><rect x="268.48" y="227.28" width="1.24" height="1.24" fill="#ff40ff"/><rect x="277.92" y="227.28" width="1.24" height="1.24" fill="#ff40ff"/><rect x="287.36" y="225.18" width="1.24" height="1.24" fill="#ff40ff"/><rect x="296.80" y="223.28" width="1.24" height="1.24" fill="#ff40ff"/><rect x="306.24" y="220.58" width="1.24" height="1.24" fill="#ff40ff"/><rect x="315.68" y="219.78" width="1.24" height="1.24" fill="#ff40ff"/><rect x="325.12" y="218.08" width="1.24" height="1.24" fill="#ff40ff"/><rect x="334.56" y="215.98" width="1.24" height="1.24" fill="#ff40ff"/><rect x="344.00" y="213.28" width="1.24" height="1.24" fill="#ff40ff"/>
<rect x="265.0" y="173.1" width="83.5" height="61.900000000000006" fill="none" stroke="#a8a8a8" stroke-width="0.4"/><path d="M265.0 184.1h1.2M348.5 184.1h-1.2M265.0 179.95h0.6M348.5 179.95h-0.6M265.0 177.52h0.6M348.5 177.52h-0.6M265.0 175.79h0.6M348.5 175.79h-0.6M265.0 174.45h0.6M348.5 174.45h-0.6M265.0 173.36h0.6M348.5 173.36h-0.6M265.0 197.7h1.2M348.5 197.7h-1.2M265.0 193.55h0.6M348.5 193.55h-0.6M265.0 191.12h0.6M348.5 191.12h-0.6M265.0 189.39h0.6M348.5 189.39h-0.6M265.0 188.05h0.6M348.5 188.05h-0.6M265.0 186.96h0.6M348.5 186.96h-0.6M265.0 186.04h0.6M348.5 186.04h-0.6M265.0 185.24h0.6M348.5 185.24h-0.6M265.0 184.53h0.6M348.5 184.53h-0.6M265.0 211.3h1.2M348.5 211.3h-1.2M265.0 207.15h0.6M348.5 207.15h-0.6M265.0 204.72h0.6M348.5 204.72h-0.6M265.0 202.99h0.6M348.5 202.99h-0.6M265.0 201.65h0.6M348.5 201.65h-0.6M265.0 200.56h0.6M348.5 200.56h-0.6M265.0 199.64h0.6M348.5 199.64h-0.6M265.0 198.84h0.6M348.5 198.84h-0.6M265.0 198.13h0.6M348.5 198.13h-0.6M265.0 224.9h1.2M348.5 224.9h-1.2M265.0 220.75h0.6M348.5 220.75h-0.6M265.0 218.32h0.6M348.5 218.32h-0.6M265.0 216.59h0.6M348.5 216.59h-0.6M265.0 215.25h0.6M348.5 215.25h-0.6M265.0 214.16h0.6M348.5 214.16h-0.6M265.0 213.24h0.6M348.5 213.24h-0.6M265.0 212.44h0.6M348.5 212.44h-0.6M265.0 211.73h0.6M348.5 211.73h-0.6M265.0 234.55h0.6M348.5 234.55h-0.6M265.0 232.12h0.6M348.5 232.12h-0.6M265.0 230.39h0.6M348.5 230.39h-0.6M265.0 229.05h0.6M348.5 229.05h-0.6M265.0 227.96h0.6M348.5 227.96h-0.6M265.0 227.04h0.6M348.5 227.04h-0.6M265.0 226.24h0.6M348.5 226.24h-0.6M265.0 225.53h0.6M348.5 225.53h-0.6M269.1 235.0v-1.2M269.1 173.1v1.2M280.47 235.0v-0.6M280.47 173.1v0.6M287.12 235.0v-0.6M287.12 173.1v0.6M291.83 235.0v-0.6M291.83 173.1v0.6M295.49 235.0v-0.6M295.49 173.1v0.6M298.48 235.0v-0.6M298.48 173.1v0.6M301.01 235.0v-0.6M301.01 173.1v0.6M303.20 235.0v-0.6M303.20 173.1v0.6M265.44 235.0v-0.6M265.44 173.1v0.6M305.13 235.0v-0.6M305.13 173.1v0.6M267.37 235.0v-0.6M267.37 173.1v0.6M306.9 235.0v-1.2M306.9 173.1v1.2M318.27 235.0v-0.6M318.27 173.1v0.6M324.92 235.0v-0.6M324.92 173.1v0.6M329.63 235.0v-0.6M329.63 173.1v0.6M333.29 235.0v-0.6M333.29 173.1v0.6M336.28 235.0v-0.6M336.28 173.1v0.6M338.81 235.0v-0.6M338.81 173.1v0.6M341.00 235.0v-0.6M341.00 173.1v0.6M342.93 235.0v-0.6M342.93 173.1v0.6M344.6 235.0v-1.2M344.6 173.1v1.2" stroke="#9a9a9a" stroke-width="0.3" fill="none"/>
<text class="s" transform="rotate(0.06 179.3 185.2)" x="179.3" y="185.2" font-size="4.15" text-anchor="end" fill="#111">10<tspan dy="-1.5" font-size="2.91">1</tspan></text>
<text class="s" transform="rotate(0.06 179.3 198.79999999999998)" x="179.3" y="198.79999999999998" font-size="4.15" text-anchor="end" fill="#111">10<tspan dy="-1.5" font-size="2.91">0</tspan></text>
<text class="s" transform="rotate(0.06 179.3 212.4)" x="179.3" y="212.4" font-size="4.15" text-anchor="end" fill="#111">10<tspan dy="-1.5" font-size="2.91">−1</tspan></text>
<text class="s" transform="rotate(0.06 179.3 226.0)" x="179.3" y="226.0" font-size="4.15" text-anchor="end" fill="#111">10<tspan dy="-1.5" font-size="2.91">−2</tspan></text>
<text class="s" transform="rotate(0.06 188.3 239.5)" x="188.3" y="239.5" font-size="4.15" text-anchor="middle" fill="#111">10<tspan dy="-1.5" font-size="2.91">−2</tspan></text>
<text class="s" transform="rotate(0.06 230.3 239.5)" x="230.3" y="239.5" font-size="4.15" text-anchor="middle" fill="#111">10<tspan dy="-1.5" font-size="2.91">−1</tspan></text>
<text class="s" transform="rotate(0.06 269.6 239.5)" x="269.6" y="239.5" font-size="4.15" text-anchor="middle" fill="#111">10<tspan dy="-1.5" font-size="2.91">0</tspan></text>
<text class="s" transform="rotate(0.06 307.3 239.5)" x="307.3" y="239.5" font-size="4.15" text-anchor="middle" fill="#111">10<tspan dy="-1.5" font-size="2.91">1</tspan></text>
<text class="s" transform="rotate(0.06 345.1 239.5)" x="345.1" y="239.5" font-size="4.15" text-anchor="middle" fill="#111">10<tspan dy="-1.5" font-size="2.91">2</tspan></text>
<text class="s" transform="translate(169.3 204.05) rotate(-89.94)" font-size="4.17" text-anchor="middle" fill="#111">Displacement Error (pixels)</text>
<text class="s" transform="rotate(0.06 221.9 243.9)" x="221.9" y="243.9" font-size="4.3" text-anchor="middle" fill="#111" font-weight="bold" font-style="italic">w<tspan dy="0.8" font-size="2.9">0</tspan><tspan dy="-0.8">/N</tspan></text>
<text class="s" transform="rotate(0.06 307.0 243.7)" x="307.0" y="243.7" font-size="4.22" text-anchor="middle" fill="#111">Noise Gain</text>
<text class="t" transform="rotate(0.06 224.1 250.9)" x="224.1" y="250.9" font-size="4.9" text-anchor="middle" fill="#111">(c) Dark spot, with dark noise.</text>
<rect x="181.7" y="16.5" width="34.5" height="29.7" rx="0.8" fill="#fff" fill-opacity="0.85" stroke="#c4c4c4" stroke-width="0.5"/>
<rect x="183" y="18.3" width="4.9" height="1.6" fill="#fccc96"/>
<text class="s" transform="rotate(0.06 190 20.25)" x="190.0" y="20.25" font-size="3.45" fill="#111">Shot Noise Limit</text>
<line x1="183" x2="187.9" y1="23.9" y2="23.9" stroke="#0f8a0f" stroke-width="0.3" stroke-opacity="0.6"/>
<path d="M184.70 24.62L186.50 24.62L185.60 23.00Z" fill="#0f8a0f"/>
<text class="s" transform="rotate(0.06 190 25.049999999999997)" x="190.0" y="25.049999999999997" font-size="3.45" fill="#111">CM</text>
<line x1="183" x2="187.9" y1="28.5" y2="28.5" stroke="#000" stroke-width="0.3" stroke-opacity="0.6"/>
<rect x="184.84" y="27.74" width="1.52" height="1.52" fill="#000"/>
<text class="s" transform="rotate(0.06 190 29.65)" x="190.0" y="29.65" font-size="3.45" fill="#111">CM - BG</text>
<line x1="183" x2="187.9" y1="33.3" y2="33.3" stroke="#ff0000" stroke-width="0.3" stroke-opacity="0.6"/>
<circle cx="185.60" cy="33.30" r="0.95" fill="#ff0000"/>
<text class="s" transform="rotate(0.06 190 34.449999999999996)" x="190.0" y="34.449999999999996" font-size="3.45" fill="#111">CC-U</text>
<line x1="183" x2="187.9" y1="38.3" y2="38.3" stroke="#0000ff" stroke-width="0.3" stroke-opacity="0.6"/>
<circle cx="185.60" cy="38.30" r="1.03" fill="#0000ff"/>
<text class="s" transform="rotate(0.06 190 39.449999999999996)" x="190.0" y="39.449999999999996" font-size="3.45" fill="#111">CC-SN</text>
<line x1="183" x2="187.9" y1="43.0" y2="43.0" stroke="#ff40ff" stroke-width="0.3" stroke-opacity="0.6"/>
<rect x="185.01" y="42.41" width="1.178" height="1.178" fill="#ff40ff"/>
<text class="s" transform="rotate(0.06 190 44.15)" x="190.0" y="44.15" font-size="3.45" fill="#111">MLE</text>
</svg></body></html>
